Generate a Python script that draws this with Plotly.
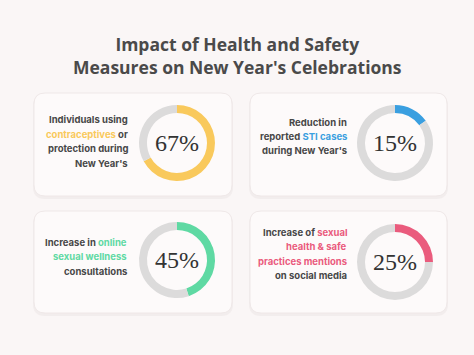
import plotly.graph_objects as go

# ---- data ----
percent_values = [67, 15, 45, 25]
percent_labels = ["67%", "15%", "45%", "25%"]
accent_colors = ["#f9c95c", "#3a9fe0", "#5fd9a3", "#ea5b7d"]
card_lines = [
    ["Individuals using",
     "<span style='color:#f9c95c'>contraceptives</span> or",
     "protection during",
     "New Year's"],
    ["Reduction in",
     "reported <span style='color:#3a9fe0'>STI cases</span>",
     "during New Year's"],
    ["Increase in <span style='color:#5fd9a3'>online</span>",
     "<span style='color:#5fd9a3'>sexual wellness</span>",
     "consultations"],
    ["Increase of <span style='color:#ea5b7d'>sexual</span>",
     "<span style='color:#ea5b7d'>health &amp; safe</span>",
     "<span style='color:#ea5b7d'>practices mentions</span>",
     "on social media"],
]
title_lines = ["Impact of Health and Safety", "Measures on New Year's Celebrations"]

# ---- layout geometry (pixels, top-left origin) ----
W, H = 474, 355
cards = [(34, 93, 232, 196), (250, 93, 447, 196), (34, 211, 232, 313), (250, 211, 447, 313)]
donut_centers = [(177, 143), (395, 143), (177, 260), (395, 262)]
R = 38
text_right = [130, 349, 129, 349]
text_first_y = [120, 122, 242, 232]
line_gap = 14.5


def px(x):
    return x / W


def py(y):
    return 1 - y / H


def rounded_rect(x0, y0, x1, y1, r):
    X0, X1 = px(x0), px(x1)
    Y0, Y1 = py(y0), py(y1)
    rx, ry = r / W, r / H
    return (f"M {X0+rx},{Y0} L {X1-rx},{Y0} Q {X1},{Y0} {X1},{Y0-ry} "
            f"L {X1},{Y1+ry} Q {X1},{Y1} {X1-rx},{Y1} "
            f"L {X0+rx},{Y1} Q {X0},{Y1} {X0},{Y1+ry} "
            f"L {X0},{Y0-ry} Q {X0},{Y0} {X0+rx},{Y0} Z")


fig = go.Figure()
shapes = []
annotations = []

for i, (x0, y0, x1, y1) in enumerate(cards):
    shapes.append(dict(type="path", xref="paper", yref="paper",
                       path=rounded_rect(x0 - 1, y0 + 1, x1 + 1, y1 + 3, 12),
                       fillcolor="rgba(200,185,185,0.15)", line=dict(width=0), layer="below"))
    shapes.append(dict(type="path", xref="paper", yref="paper",
                       path=rounded_rect(x0, y0, x1, y1, 11),
                       fillcolor="#fdfafa", line=dict(color="#efe8e8", width=1), layer="below"))

    cx, cy = donut_centers[i]
    v = percent_values[i]
    fig.add_trace(go.Pie(
        values=[v, 100 - v],
        marker=dict(colors=[accent_colors[i], "#dcdbdb"], line=dict(width=0)),
        hole=0.79, sort=False, direction="clockwise", rotation=0,
        textinfo="none", hoverinfo="skip", showlegend=False,
        domain=dict(x=[px(cx - R), px(cx + R)], y=[py(cy + R), py(cy - R)]),
    ))
    annotations.append(dict(x=px(cx), y=py(cy), xref="paper", yref="paper",
                            text=percent_labels[i], showarrow=False,
                            xanchor="center", yanchor="middle",
                            font=dict(family="Liberation Serif", size=24, color="#333333")))
    for j, line in enumerate(card_lines[i]):
        annotations.append(dict(x=px(text_right[i]), y=py(text_first_y[i] + j * line_gap),
                                xref="paper", yref="paper", text=line, showarrow=False,
                                xanchor="right", yanchor="middle", align="right",
                                font=dict(family="Inter", size=9.5, color="#474747", weight=700)))

annotations.append(dict(x=0.5, y=py(55.5), xref="paper", yref="paper",
                        text="<br>".join(title_lines), showarrow=False,
                        xanchor="center", yanchor="middle", align="center",
                        font=dict(family="Open Sans", size=17.5, color="#4a4a4a", weight=700)))

fig.update_layout(
    width=W, height=H, margin=dict(l=0, r=0, t=0, b=0),
    paper_bgcolor="#faf6f6", plot_bgcolor="#faf6f6",
    shapes=shapes, annotations=annotations,
    xaxis=dict(visible=False), yaxis=dict(visible=False),
)
fig.write_html("out.html", config={"displayModeBar": False},
               post_script="document.body.style.margin='0';")
